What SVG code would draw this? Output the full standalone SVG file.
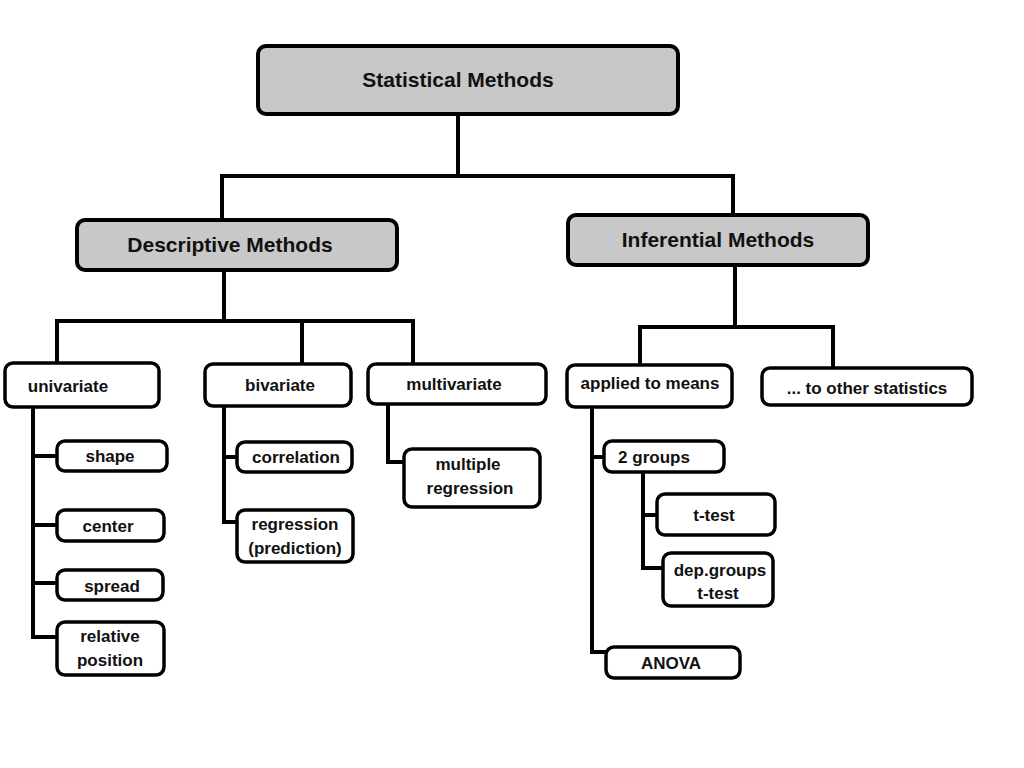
<svg xmlns="http://www.w3.org/2000/svg" width="1024" height="768" viewBox="0 0 1024 768">
<style>
.b{fill:#fff;stroke:#000;stroke-width:3.5}
.g{fill:#c8c8c8;stroke:#000;stroke-width:4}
text{font-family:"Liberation Sans",Arial,sans-serif;font-weight:bold;font-size:17px;text-anchor:middle;fill:#111}
.h{font-size:21px}
.c{fill:none;stroke:#000;stroke-width:4}
</style>
<rect width="1024" height="768" fill="#fff"/>
<g id="connectors">
<path class="c" d="M458 114V176M222 222V176H733V215"/>
<path class="c" d="M224 270V321M57 363V321H413V365M302 321V365"/>
<path class="c" d="M735 265V327M640 365V327H833V368"/>
<path class="c" d="M33 407V637H57M33 456H57M33 525H57M33 583H57"/>
<path class="c" d="M224 406V522H237M224 457H237"/>
<path class="c" d="M388 404V462H404"/>
<path class="c" d="M592 407V652H606M592 457H604"/>
<path class="c" d="M643 472V568H663M643 515H657"/>
</g>
<g id="statistical"><rect class="g" x="258" y="46" width="420" height="68" rx="8"/><text class="h" x="458" y="87">Statistical Methods</text></g>
<g id="descriptive"><rect class="g" x="77" y="220" width="320" height="50" rx="8"/><text class="h" x="230" y="252">Descriptive Methods</text></g>
<g id="inferential"><rect class="g" x="568" y="215" width="300" height="50" rx="8"/><text class="h" x="718" y="247">Inferential Methods</text></g>
<g id="univariate"><rect class="b" x="5" y="363" width="154" height="44" rx="8"/><text x="68" y="392">univariate</text></g>
<g id="bivariate"><rect class="b" x="205" y="364" width="146" height="42" rx="8"/><text x="280" y="391">bivariate</text></g>
<g id="multivariate"><rect class="b" x="368" y="364" width="178" height="40" rx="8"/><text x="454" y="390">multivariate</text></g>
<g id="applied"><rect class="b" x="567" y="365" width="165" height="42" rx="8"/><text x="650" y="389">applied to means</text></g>
<g id="other"><rect class="b" x="762" y="368" width="210" height="37" rx="8"/><text x="867" y="394">... to other statistics</text></g>
<g id="shape"><rect class="b" x="57" y="441" width="110" height="30" rx="8"/><text x="110" y="462">shape</text></g>
<g id="center"><rect class="b" x="57" y="510" width="107" height="31" rx="8"/><text x="108" y="532">center</text></g>
<g id="spread"><rect class="b" x="57" y="570" width="106" height="30" rx="8"/><text x="112" y="592">spread</text></g>
<g id="relpos"><rect class="b" x="57" y="622" width="107" height="53" rx="8"/><text x="110" y="642">relative</text><text x="110" y="666">position</text></g>
<g id="correlation"><rect class="b" x="237" y="442" width="115" height="30" rx="8"/><text x="296" y="463">correlation</text></g>
<g id="regression"><rect class="b" x="237" y="510" width="116" height="52" rx="8"/><text x="295" y="530">regression</text><text x="295" y="554">(prediction)</text></g>
<g id="multreg"><rect class="b" x="404" y="449" width="136" height="58" rx="8"/><text x="468" y="470">multiple</text><text x="470" y="494">regression</text></g>
<g id="twogroups"><rect class="b" x="604" y="441" width="120" height="31" rx="8"/><text x="654" y="463">2 groups</text></g>
<g id="ttest"><rect class="b" x="657" y="494" width="118" height="41" rx="8"/><text x="714" y="521">t-test</text></g>
<g id="depgroups"><rect class="b" x="663" y="553" width="110" height="53" rx="8"/><text x="720" y="576">dep.groups</text><text x="718" y="599">t-test</text></g>
<g id="anova"><rect class="b" x="606" y="647" width="134" height="31" rx="8"/><text x="671" y="669">ANOVA</text></g>
</svg>
